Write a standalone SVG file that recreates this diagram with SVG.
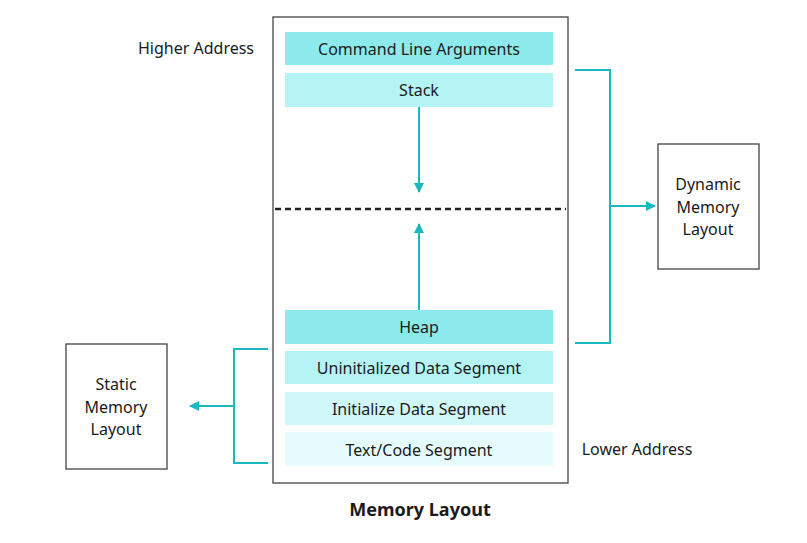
<svg xmlns="http://www.w3.org/2000/svg" width="807" height="543" viewBox="0 0 807 543">
<defs>
<style>
text{font-family:"Noto Sans","Open Sans",sans-serif;font-size:16px;fill:#1a1a1a;text-anchor:middle}
.box{fill:#fff;stroke:#444;stroke-width:1.3}
.con{fill:none;stroke:#19b8c3;stroke-width:2}
</style>
<marker id="ah" viewBox="0 0 10 10" refX="9" refY="5" markerWidth="5" markerHeight="5" orient="auto-start-reverse"><path d="M0,0L10,5L0,10z" fill="#19b8c3"/></marker>
</defs>
<rect width="807" height="543" fill="#fff"/>
<g id="memory">
<rect class="box" x="273" y="17" width="295" height="466"/>
<line x1="275" y1="209" x2="566" y2="209" stroke="#222" stroke-width="2.5" stroke-dasharray="6,4"/>
</g>
<g id="cmd"><rect x="285" y="32" width="268" height="33" fill="#8ceaec"/><text x="419" y="55">Command Line Arguments</text></g>
<g id="stack"><rect x="285" y="73" width="268" height="34" fill="#b5f4f4"/><text x="419" y="96">Stack</text></g>
<g id="heap"><rect x="285" y="310" width="268" height="34" fill="#8ceaec"/><text x="419" y="333">Heap</text></g>
<g id="uninit"><rect x="285" y="351" width="268" height="33" fill="#b5f4f4"/><text x="419" y="374">Uninitialized Data Segment</text></g>
<g id="init"><rect x="285" y="392" width="268" height="33" fill="#d0f8f8"/><text x="419" y="415">Initialize Data Segment</text></g>
<g id="text"><rect x="285" y="432" width="268" height="34" fill="#e6fcfc"/><text x="419" y="456">Text/Code Segment</text></g>
<g id="dynamic"><rect class="box" x="658" y="144" width="101" height="125"/><text x="708" y="190">Dynamic</text><text x="708" y="213">Memory</text><text x="708" y="235">Layout</text></g>
<g id="static"><rect class="box" x="66" y="344" width="101" height="125"/><text x="116" y="390">Static</text><text x="116" y="413">Memory</text><text x="116" y="435">Layout</text></g>
<g id="labels">
<text x="196" y="54">Higher Address</text>
<text x="637" y="455">Lower Address</text>
<text x="420" y="516" style="font-weight:bold;font-size:18px">Memory Layout</text>
</g>
<g id="connectors">
<line class="con" x1="419" y1="107" x2="419" y2="192" marker-end="url(#ah)"/>
<line class="con" x1="419" y1="310" x2="419" y2="224" marker-end="url(#ah)"/>
<polyline class="con" points="575,70 610,70 610,343 575,343"/>
<line class="con" x1="610" y1="206" x2="655" y2="206" marker-end="url(#ah)"/>
<polyline class="con" points="268,349 234,349 234,463 268,463"/>
<line class="con" x1="234" y1="406" x2="190" y2="406" marker-end="url(#ah)"/>
</g>
</svg>
